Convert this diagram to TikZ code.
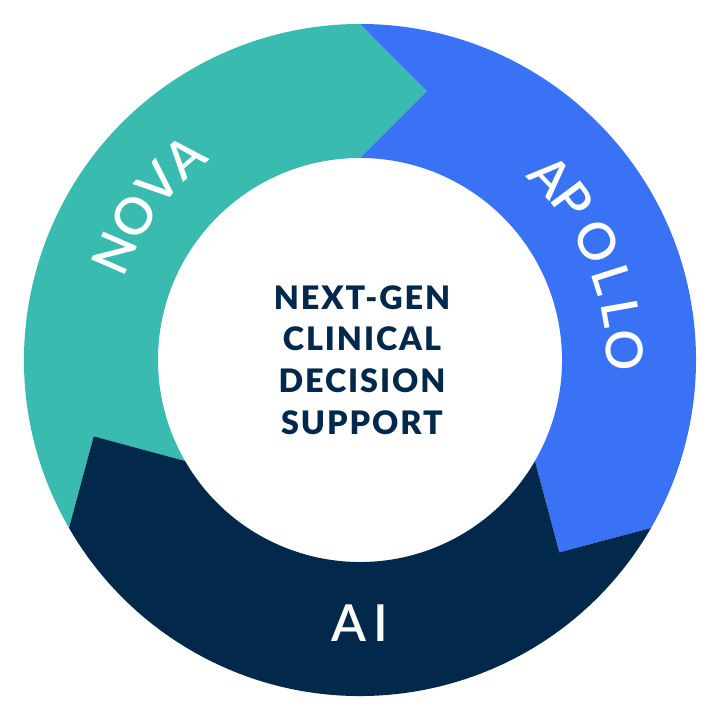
\documentclass[tikz,border=0pt]{standalone}
\usepackage{fontspec}
\setmainfont{Lato}
\newfontfamily\ringfont{Lato Semibold}[LetterSpace=2]
\newfontfamily\hubfont{Lato Black}[LetterSpace=6]
\definecolor{novateal}{HTML}{39BBB0}
\definecolor{apolloblue}{HTML}{3A72F6}
\definecolor{ainavy}{HTML}{02284B}

\tikzset{
    ringlabel/.style={text=white, inner sep=0pt, font=\ringfont\fontsize{14.5}{14.5}\selectfont},
    hublabel/.style={text=ainavy, align=center, inner sep=0pt, font=\hubfont\fontsize{9.2}{11.9}\selectfont},
}

\begin{document}
\begin{tikzpicture}
    \useasboundingbox (-3.6,-3.6) rectangle (3.6,3.6);
    \def\rout{3.36}
    \def\rin{2.02}
    \def\rtip{2.77}

    % Ring segments
    \fill[novateal] (210:\rout) arc[start angle=210, end angle=90, radius=\rout] -- (76:\rtip)
        -- (90:\rin) arc[start angle=90, end angle=210, radius=\rin] -- (196:\rtip) -- cycle;
    \fill[apolloblue] (90:\rout) arc[start angle=90, end angle=-30, radius=\rout] -- (-44:\rtip)
        -- (-30:\rin) arc[start angle=-30, end angle=90, radius=\rin] -- (76:\rtip) -- cycle;
    \fill[ainavy] (-30:\rout) arc[start angle=-30, end angle=-150, radius=\rout] -- (-164:\rtip)
        -- (-150:\rin) arc[start angle=-150, end angle=-30, radius=\rin] -- (-44:\rtip) -- cycle;

    % Ring labels
    \foreach \ch/\ang [count=\i] in {N/156.5, O/147.6, V/138.8, A/130.7}
        \node[ringlabel, rotate=\ang-90] (nova\i) at (\ang:2.68) {\ch};
    \foreach \ch/\ang [count=\i] in {A/43.9, P/36.8, O/26.5, L/17.7, L/10.1, O/2.1}
        \node[ringlabel, rotate=\ang-90] (apollo\i) at (\ang:2.65) {\ch};
    \node[ringlabel] (ai) at (0,-2.63) {A\hspace{2pt}I};

    % Centre text
    \node[hublabel] (hub) at (0.02,0) {NEXT-GEN\\CLINICAL\\DECISION\\SUPPORT};
\end{tikzpicture}
\end{document}
